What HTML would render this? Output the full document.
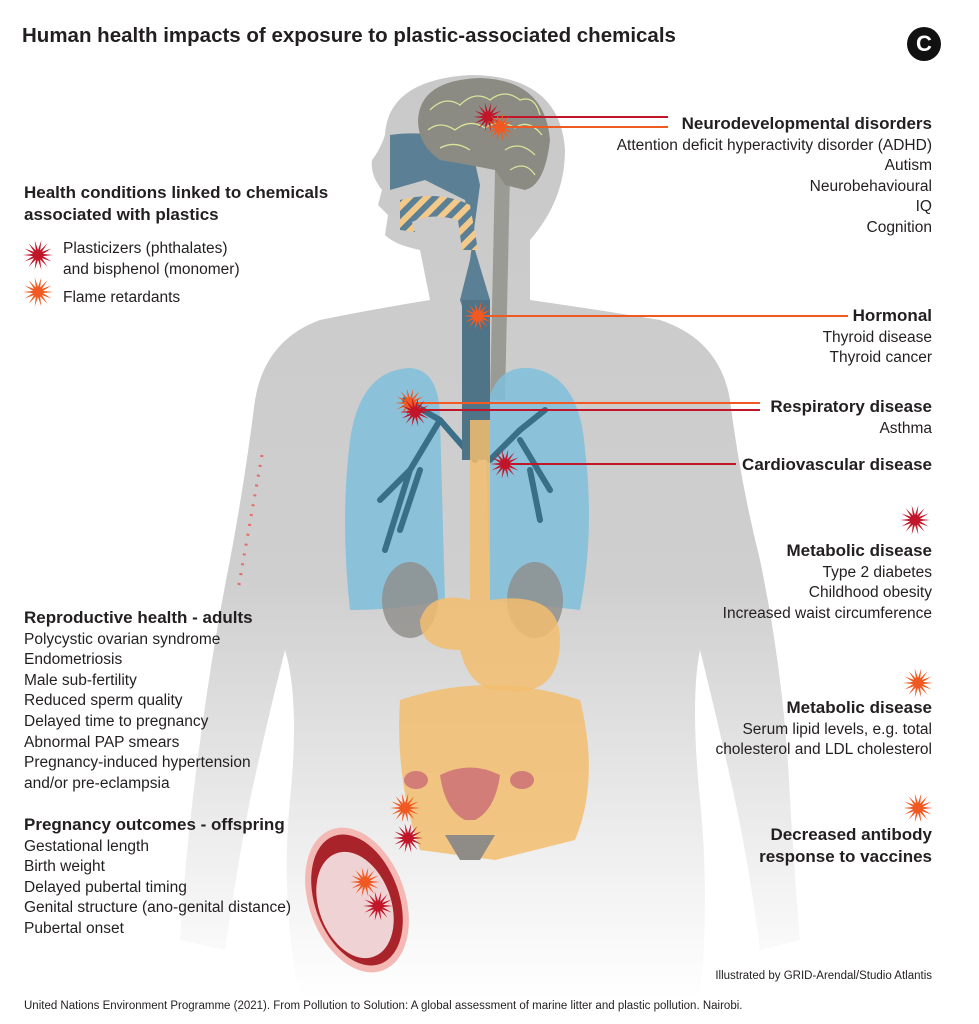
<!DOCTYPE html>
<html><head><meta charset="utf-8">
<style>
body{margin:0;width:979px;height:1024px;background:#fff;position:relative;overflow:hidden;font-family:"Liberation Sans",sans-serif;color:#231f20}
.t{position:absolute;white-space:nowrap;font-size:15.5px;line-height:20.6px}
.r{text-align:right}
b{font-weight:bold;font-size:17px}
svg{position:absolute;left:0;top:0}
</style></head><body>
<svg width="979" height="1024" viewBox="0 0 979 1024">
<defs>
<linearGradient id="bg" x1="0" y1="0" x2="0" y2="1">
<stop offset="0" stop-color="#c9c9c9"/><stop offset="0.55" stop-color="#cfcfcf"/><stop offset="0.85" stop-color="#f0f0f0"/><stop offset="1" stop-color="#fff"/></linearGradient>
<pattern id="st" width="12" height="12" patternUnits="userSpaceOnUse" patternTransform="rotate(45)"><rect width="12" height="12" fill="#f3c98a"/><rect width="6" height="12" fill="#5b7f95"/></pattern>
</defs>
<!-- body -->
<path fill="url(#bg)" d="M430 300 L420 250 Q395 245 385 235 L388 215 L378 205 L382 190 Q370 175 372 160 Q380 150 385 135 Q388 80 470 75 Q560 75 565 150 Q565 200 530 240 L530 300 Q600 310 660 320 Q720 340 730 400 Q740 480 760 560 Q785 680 790 800 Q795 880 800 940 L760 950 Q750 870 735 800 Q720 730 700 650 Q690 700 700 800 Q710 900 700 1000 L300 1000 Q280 900 290 800 Q300 700 285 650 Q265 730 250 800 Q235 880 225 950 L180 940 Q185 860 195 780 Q210 660 230 560 Q245 480 255 400 Q265 340 320 320 Q380 308 430 300Z"/>
<!-- nasal / throat dark -->
<path fill="#5b7f95" d="M390 135 Q420 130 470 140 L480 185 L470 260 L460 300 L470 330 L470 390 L490 395 L490 300 L475 250 L465 200 L425 180 L390 190Z"/>
<path fill="url(#st)" d="M400 200 Q440 190 470 205 L478 250 L462 250 L458 220 Q430 212 412 222 L415 232 L400 230Z"/>
<!-- spine/neck gray -->
<path fill="#9b9b95" d="M495 170 L510 175 L505 400 L490 400Z"/>
<!-- brain -->
<path fill="#8c8b83" d="M418 120 Q420 80 480 78 Q545 80 550 140 Q545 185 525 190 L505 185 L495 170 Q470 165 440 160 Q418 145 418 120Z"/>
<g stroke="#d9e69a" stroke-width="1.3" fill="none">
<path d="M430 110 Q445 95 460 105 Q475 90 490 100 Q505 88 520 100 Q535 95 540 115"/>
<path d="M428 130 Q440 120 455 130 Q470 118 485 128 Q500 118 515 128 Q528 118 542 135"/>
<path d="M440 148 Q455 140 470 150 M505 150 Q520 140 535 155 M510 170 Q525 160 535 175"/>
</g>
<!-- lungs -->
<path fill="#7fbfdc" opacity="0.85" d="M350 440 Q360 370 410 368 Q440 370 440 420 L445 600 Q400 610 350 610 Q340 520 350 440Z"/>
<path fill="#7fbfdc" opacity="0.85" d="M485 420 Q490 365 530 368 Q580 375 585 450 Q595 530 580 610 L490 600Z"/>
<g stroke="#3a6f88" stroke-width="6" fill="none" stroke-linecap="round">
<path d="M475 460 L440 420 L405 400 M440 420 L410 470 L380 500 M410 470 L385 550 M420 470 L400 530"/>
<path d="M490 460 L520 430 L545 410 M520 440 L550 490 M530 470 L540 520"/>
</g>
<!-- trachea -->
<path fill="#4f7387" d="M462 300 L490 300 L490 460 L462 460Z"/>
<!-- kidneys -->
<ellipse cx="410" cy="600" rx="28" ry="38" fill="#8f8c88" opacity="0.8"/>
<ellipse cx="535" cy="600" rx="28" ry="38" fill="#8f8c88" opacity="0.8"/>
<!-- gut -->
<path fill="#f2bd6e" opacity="0.85" d="M470 420 L490 420 L490 600 Q560 590 560 640 Q560 700 500 690 Q470 690 460 650 Q420 650 420 620 Q430 590 470 600Z"/>
<path fill="#f2bd6e" opacity="0.85" d="M400 700 Q490 670 580 700 Q600 780 575 840 L495 860 L420 850 Q395 780 400 700Z"/>
<!-- uterus -->
<path fill="#d27d78" d="M440 775 Q470 760 500 775 Q495 810 475 820 L465 820 Q445 810 440 775Z"/>
<ellipse cx="416" cy="780" rx="12" ry="9" fill="#d27d78"/><ellipse cx="522" cy="780" rx="12" ry="9" fill="#d27d78"/>
<path fill="#8f8c88" d="M445 835 L495 835 L480 860 L460 860Z"/>
<!-- fetus -->
<ellipse cx="357" cy="900" rx="48" ry="75" transform="rotate(-20 357 900)" fill="#f4b9b5"/>
<ellipse cx="357" cy="900" rx="42" ry="68" transform="rotate(-20 357 900)" fill="#a9242a"/>
<ellipse cx="355" cy="905" rx="36" ry="55" transform="rotate(-20 355 905)" fill="#efd2d3"/>
<!-- arm red dots -->
<path d="M262 455 L238 590" stroke="#e9544a" stroke-width="3" stroke-dasharray="2 8" opacity="0.8"/>
<!-- lines -->
<g stroke-width="2">
<line x1="488" y1="117" x2="668" y2="117" stroke="#c1152a"/>
<line x1="500" y1="127" x2="668" y2="127" stroke="#f05a22"/>
<line x1="478" y1="316" x2="848" y2="316" stroke="#f05a22"/>
<line x1="412" y1="403" x2="760" y2="403" stroke="#f05a22"/>
<line x1="418" y1="410" x2="760" y2="410" stroke="#c1152a"/>
<line x1="505" y1="464" x2="736" y2="464" stroke="#c1152a"/>
</g>
<g id="stars"></g>
</svg>
<div class="t" style="left:22px;top:26px;font-size:20.5px;font-weight:bold">Human health impacts of exposure to plastic-associated chemicals</div>
<div style="position:absolute;left:907px;top:27px;width:34px;height:34px;border-radius:50%;background:#111;color:#fff;font-weight:bold;font-size:22px;text-align:center;line-height:34px">C</div>
<div class="t" style="left:24px;top:183px"><b>Health conditions linked to chemicals<br>associated with plastics</b></div>
<div class="t" style="left:63px;top:239px">Plasticizers (phthalates)<br>and bisphenol (monomer)</div>
<div class="t" style="left:63px;top:288px">Flame retardants</div>
<div class="t r" style="right:47px;top:114px"><b>Neurodevelopmental disorders</b><br>Attention deficit hyperactivity disorder (ADHD)<br>Autism<br>Neurobehavioural<br>IQ<br>Cognition</div>
<div class="t r" style="right:47px;top:306px"><b>Hormonal</b><br>Thyroid disease<br>Thyroid cancer</div>
<div class="t r" style="right:47px;top:397px"><b>Respiratory disease</b><br>Asthma</div>
<div class="t r" style="right:47px;top:455px"><b>Cardiovascular disease</b></div>
<div class="t r" style="right:47px;top:541px"><b>Metabolic disease</b><br>Type 2 diabetes<br>Childhood obesity<br>Increased waist circumference</div>
<div class="t r" style="right:47px;top:698px"><b>Metabolic disease</b><br>Serum lipid levels, e.g. total<br>cholesterol and LDL cholesterol</div>
<div class="t r" style="right:47px;top:825px"><b>Decreased antibody<br>response to vaccines</b></div>
<div class="t" style="left:24px;top:608px"><b>Reproductive health - adults</b><br>Polycystic ovarian syndrome<br>Endometriosis<br>Male sub-fertility<br>Reduced sperm quality<br>Delayed time to pregnancy<br>Abnormal PAP smears<br>Pregnancy-induced hypertension<br>and/or pre-eclampsia</div>
<div class="t" style="left:24px;top:815px"><b>Pregnancy outcomes - offspring</b><br>Gestational length<br>Birth weight<br>Delayed pubertal timing<br>Genital structure (ano-genital distance)<br>Pubertal onset</div>
<div class="t r" style="right:47px;top:966px;font-size:11.5px">Illustrated by GRID-Arendal/Studio Atlantis</div>
<div class="t" style="left:24px;top:996px;font-size:11.5px">United Nations Environment Programme (2021). From Pollution to Solution: A global assessment of marine litter and plastic pollution. Nairobi.</div>
<script>
var S=[[38,255,'#c1152a'],[38,292,'#f05a22'],[488,117,'#c1152a'],[500,127,'#f05a22'],[478,316,'#f05a22'],[410,403,'#f05a22'],[415,412,'#c1152a'],[505,464,'#c1152a'],[915,520,'#c1152a'],[918,683,'#f05a22'],[918,808,'#f05a22'],[405,808,'#f05a22'],[408,838,'#c1152a'],[365,882,'#f05a22'],[378,906,'#c1152a']];
var g=document.getElementById('stars'),h='';
S.forEach(function(s){var p=[];for(var i=0;i<28;i++){var r=i%2?5:15,a=i*Math.PI/14;p.push((s[0]+r*Math.cos(a)).toFixed(1)+','+(s[1]+r*Math.sin(a)).toFixed(1));}h+='<polygon points="'+p.join(' ')+'" fill="'+s[2]+'"/>';});
g.innerHTML=h;
</script>
</body></html>
